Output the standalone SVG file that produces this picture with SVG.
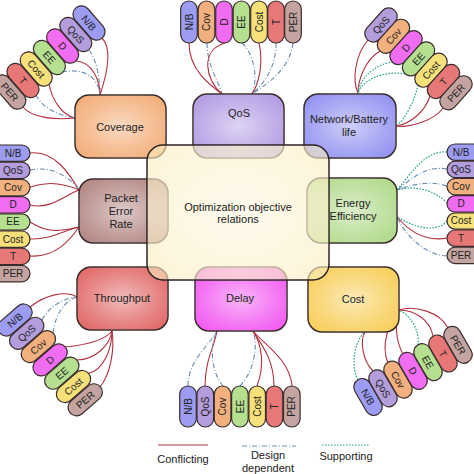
<svg xmlns="http://www.w3.org/2000/svg" width="474" height="474" viewBox="0 0 474 474">
<defs>
<radialGradient id="glow" cx="50%" cy="50%" r="62%">
<stop offset="0" stop-color="#fff" stop-opacity="0.55"/>
<stop offset="0.6" stop-color="#fff" stop-opacity="0.2"/>
<stop offset="1" stop-color="#fff" stop-opacity="0"/>
</radialGradient>
<style>
text{font-family:"Liberation Sans",Arial,sans-serif;fill:#222;text-anchor:middle}
.nt{font-size:11px}
.pt{font-size:10px}
.nb{stroke:#3a2c2c;stroke-width:1.5}
.pb{stroke:#3a2c2c;stroke-width:1.2}
.g{fill:url(#glow)}
.c{fill:none;stroke:#b3303e;stroke-width:1.1}
.d{fill:none;stroke:#6a8db0;stroke-width:1.1;stroke-dasharray:5 2 1 2}
.s{fill:none;stroke:#24a488;stroke-width:1.2;stroke-dasharray:1.6 1.4}
.NB{fill:#9c9cf2}.QOS{fill:#b39ddc}.COV{fill:#f2b07e}.D{fill:#f06cf0}.EE{fill:#b5e08f}.COST{fill:#f6e07a}.T{fill:#e87878}.PER{fill:#c4a4a0}
</style>
</defs>

<g id="connectors">
<!-- QoS -->
<path class="c" d="M189,43 C189,70 210,85 222,94"/>
<path class="d" d="M207,43 C207,65 218,80 222,94"/>
<path class="c" d="M225,43 C200,50 205,80 222,94"/>
<path class="d" d="M242,43 C255,55 258,80 252,94"/>
<path class="c" d="M259,43 C264,65 258,85 252,94"/>
<path class="d" d="M276,43 C276,70 262,85 252,94"/>
<path class="d" d="M293,43 C290,70 265,85 252,94"/>
<!-- Coverage -->
<path class="c" d="M102,38 C114,50 105,80 100,95"/>
<path class="d" d="M89,50 C97,60 100,80 100,95"/>
<path class="c" d="M76,61 C92,62 100,80 100,95"/>
<path class="d" d="M62,72 C82,68 98,75 100,95"/>
<path class="c" d="M49,84 C52,100 62,115 75,118"/>
<path class="d" d="M36,95 C42,108 60,116 75,118"/>
<path class="c" d="M23,107 C32,118 55,120 75,118"/>
<!-- Network -->
<path class="c" d="M368,40 C355,55 352,80 358,93"/>
<path class="c" d="M380,51 C365,60 358,80 358,93"/>
<path class="s" d="M393,62 C375,64 360,78 358,93"/>
<path class="s" d="M405,74 C385,70 362,80 358,93"/>
<path class="s" d="M418,85 C415,100 405,120 396,126"/>
<path class="c" d="M430,96 C425,112 410,124 396,126"/>
<path class="c" d="M443,108 C435,120 410,128 396,126"/>
<!-- Packet Error Rate -->
<path class="c" d="M30,153 C55,150 70,175 79,190"/>
<path class="d" d="M30,170 C55,165 72,180 79,190"/>
<path class="c" d="M30,187 C50,180 68,185 79,190"/>
<path class="c" d="M30,205 C50,210 65,195 79,190"/>
<path class="c" d="M30,222 C50,235 65,230 79,227"/>
<path class="c" d="M30,239 C50,240 65,230 79,227"/>
<path class="c" d="M30,256 C55,258 70,240 79,227"/>
<!-- Energy Efficiency -->
<path class="s" d="M447,152 C425,150 410,175 397,190"/>
<path class="d" d="M447,169 C425,165 410,180 397,190"/>
<path class="d" d="M447,186 C430,180 410,185 397,190"/>
<path class="s" d="M447,203 C435,190 415,185 397,190"/>
<path class="s" d="M447,221 C435,235 410,225 397,217"/>
<path class="c" d="M447,238 C425,242 408,230 397,217"/>
<path class="d" d="M447,256 C425,255 405,235 397,217"/>
<!-- Throughput -->
<path class="c" d="M30,307 C45,295 65,290 77,297"/>
<path class="d" d="M42,320 C50,305 65,298 77,297"/>
<path class="d" d="M53,333 C55,315 65,300 77,297"/>
<path class="c" d="M65,347 C85,345 105,340 112,331"/>
<path class="c" d="M77,360 C95,360 110,345 112,331"/>
<path class="c" d="M89,373 C103,370 112,350 112,331"/>
<path class="c" d="M100,387 C110,375 115,350 112,331"/>
<!-- Delay -->
<path class="d" d="M188,386 C188,360 210,345 217,331"/>
<path class="c" d="M205,386 C205,360 215,345 217,331"/>
<path class="d" d="M223,386 C210,370 210,345 217,331"/>
<path class="d" d="M240,386 C255,370 258,345 253,331"/>
<path class="c" d="M257,386 C265,365 262,345 253,331"/>
<path class="c" d="M274,386 C274,360 262,345 253,331"/>
<path class="c" d="M292,386 C290,360 265,345 253,331"/>
<!-- Cost -->
<path class="s" d="M358,380 C350,365 355,340 365,332"/>
<path class="c" d="M373,371 C362,360 360,340 365,332"/>
<path class="c" d="M388,363 C380,345 390,320 399,310"/>
<path class="c" d="M403,354 C395,340 395,320 399,310"/>
<path class="s" d="M418,345 C420,330 410,315 399,310"/>
<path class="c" d="M433,336 C430,320 415,310 399,310"/>
<path class="c" d="M448,328 C440,312 415,305 399,310"/>
</g>

<!-- Pills: QoS group (top centre) -->
<g id="pills-qos">
<g transform="translate(189,22) rotate(-90)"><rect class="NB pb" x="-21" y="-8.3" width="42" height="16.6" rx="8.3"/><text class="pt" y="3.6">N/B</text></g>
<g transform="translate(206.5,22) rotate(-90)"><rect class="COV pb" x="-21" y="-8.3" width="42" height="16.6" rx="8.3"/><text class="pt" y="3.6">Cov</text></g>
<g transform="translate(224,22) rotate(-90)"><rect class="D pb" x="-21" y="-8.3" width="42" height="16.6" rx="8.3"/><text class="pt" y="3.6">D</text></g>
<g transform="translate(241.5,22) rotate(-90)"><rect class="EE pb" x="-21" y="-8.3" width="42" height="16.6" rx="8.3"/><text class="pt" y="3.6">EE</text></g>
<g transform="translate(259,22) rotate(-90)"><rect class="COST pb" x="-21" y="-8.3" width="42" height="16.6" rx="8.3"/><text class="pt" y="3.6">Cost</text></g>
<g transform="translate(276,22) rotate(-90)"><rect class="T pb" x="-21" y="-8.3" width="42" height="16.6" rx="8.3"/><text class="pt" y="3.6">T</text></g>
<g transform="translate(293,22) rotate(-90)"><rect class="PER pb" x="-21" y="-8.3" width="42" height="16.6" rx="8.3"/><text class="pt" y="3.6">PER</text></g>
</g>

<!-- Pills: Coverage group (top left) -->
<g id="pills-coverage">
<g transform="translate(89,23) rotate(49)"><rect class="NB pb" x="-20" y="-8.5" width="40" height="17" rx="8.5"/><text class="pt" y="3.6">N/B</text></g>
<g transform="translate(75.8,34.5) rotate(49)"><rect class="QOS pb" x="-20" y="-8.5" width="40" height="17" rx="8.5"/><text class="pt" y="3.6">QoS</text></g>
<g transform="translate(62.6,46) rotate(49)"><rect class="D pb" x="-20" y="-8.5" width="40" height="17" rx="8.5"/><text class="pt" y="3.6">D</text></g>
<g transform="translate(49.4,57.5) rotate(49)"><rect class="EE pb" x="-20" y="-8.5" width="40" height="17" rx="8.5"/><text class="pt" y="3.6">EE</text></g>
<g transform="translate(36.2,69) rotate(49)"><rect class="COST pb" x="-20" y="-8.5" width="40" height="17" rx="8.5"/><text class="pt" y="3.6">Cost</text></g>
<g transform="translate(23,80.5) rotate(49)"><rect class="T pb" x="-20" y="-8.5" width="40" height="17" rx="8.5"/><text class="pt" y="3.6">T</text></g>
<g transform="translate(9.8,92) rotate(49)"><rect class="PER pb" x="-20" y="-8.5" width="40" height="17" rx="8.5"/><text class="pt" y="3.6">PER</text></g>
</g>

<!-- Pills: Network group (top right) -->
<g id="pills-network">
<g transform="translate(381,25) rotate(-48)"><rect class="QOS pb" x="-20" y="-8.5" width="40" height="17" rx="8.5"/><text class="pt" y="3.6">QoS</text></g>
<g transform="translate(393.5,36.3) rotate(-48)"><rect class="COV pb" x="-20" y="-8.5" width="40" height="17" rx="8.5"/><text class="pt" y="3.6">Cov</text></g>
<g transform="translate(406,47.6) rotate(-48)"><rect class="D pb" x="-20" y="-8.5" width="40" height="17" rx="8.5"/><text class="pt" y="3.6">D</text></g>
<g transform="translate(418.5,58.9) rotate(-48)"><rect class="EE pb" x="-20" y="-8.5" width="40" height="17" rx="8.5"/><text class="pt" y="3.6">EE</text></g>
<g transform="translate(431,70.2) rotate(-48)"><rect class="COST pb" x="-20" y="-8.5" width="40" height="17" rx="8.5"/><text class="pt" y="3.6">Cost</text></g>
<g transform="translate(443.5,81.5) rotate(-48)"><rect class="T pb" x="-20" y="-8.5" width="40" height="17" rx="8.5"/><text class="pt" y="3.6">T</text></g>
<g transform="translate(456,92.8) rotate(-48)"><rect class="PER pb" x="-20" y="-8.5" width="40" height="17" rx="8.5"/><text class="pt" y="3.6">PER</text></g>
</g>

<!-- Pills: Packet Error Rate group (left) -->
<g id="pills-per">
<rect class="NB pb" x="-10" y="145" width="40" height="16.4" rx="8.2"/><text class="pt" x="13" y="156.6">N/B</text>
<rect class="QOS pb" x="-10" y="162.2" width="40" height="16.4" rx="8.2"/><text class="pt" x="13" y="173.8">QoS</text>
<rect class="COV pb" x="-10" y="179.4" width="40" height="16.4" rx="8.2"/><text class="pt" x="13" y="191">Cov</text>
<rect class="D pb" x="-10" y="196.6" width="40" height="16.4" rx="8.2"/><text class="pt" x="13" y="208.2">D</text>
<rect class="EE pb" x="-10" y="213.8" width="40" height="16.4" rx="8.2"/><text class="pt" x="13" y="225.4">EE</text>
<rect class="COST pb" x="-10" y="231" width="40" height="16.4" rx="8.2"/><text class="pt" x="13" y="242.6">Cost</text>
<rect class="T pb" x="-10" y="248.2" width="40" height="16.4" rx="8.2"/><text class="pt" x="13" y="259.8">T</text>
<rect class="PER pb" x="-10" y="265.4" width="40" height="16.4" rx="8.2"/><text class="pt" x="13" y="277">PER</text>
</g>

<!-- Pills: Energy Efficiency group (right) -->
<g id="pills-ee">
<rect class="NB pb" x="447" y="144" width="40" height="16.4" rx="8.2"/><text class="pt" x="461" y="155.6">N/B</text>
<rect class="QOS pb" x="447" y="161.2" width="40" height="16.4" rx="8.2"/><text class="pt" x="461" y="172.8">QoS</text>
<rect class="COV pb" x="447" y="178.4" width="40" height="16.4" rx="8.2"/><text class="pt" x="461" y="190">Cov</text>
<rect class="D pb" x="447" y="195.6" width="40" height="16.4" rx="8.2"/><text class="pt" x="461" y="207.2">D</text>
<rect class="COST pb" x="447" y="212.8" width="40" height="16.4" rx="8.2"/><text class="pt" x="461" y="224.4">Cost</text>
<rect class="T pb" x="447" y="230" width="40" height="16.4" rx="8.2"/><text class="pt" x="461" y="241.6">T</text>
<rect class="PER pb" x="447" y="247.2" width="40" height="16.4" rx="8.2"/><text class="pt" x="461" y="258.8">PER</text>
</g>

<!-- Pills: Throughput group (bottom left) -->
<g id="pills-throughput">
<g transform="translate(15,320) rotate(-41)"><rect class="NB pb" x="-20" y="-8.5" width="40" height="17" rx="8.5"/><text class="pt" y="3.6">N/B</text></g>
<g transform="translate(26.7,333.3) rotate(-41)"><rect class="QOS pb" x="-20" y="-8.5" width="40" height="17" rx="8.5"/><text class="pt" y="3.6">QoS</text></g>
<g transform="translate(38.4,346.6) rotate(-41)"><rect class="COV pb" x="-20" y="-8.5" width="40" height="17" rx="8.5"/><text class="pt" y="3.6">Cov</text></g>
<g transform="translate(50.1,359.9) rotate(-41)"><rect class="D pb" x="-20" y="-8.5" width="40" height="17" rx="8.5"/><text class="pt" y="3.6">D</text></g>
<g transform="translate(61.8,373.2) rotate(-41)"><rect class="EE pb" x="-20" y="-8.5" width="40" height="17" rx="8.5"/><text class="pt" y="3.6">EE</text></g>
<g transform="translate(73.5,386.5) rotate(-41)"><rect class="COST pb" x="-20" y="-8.5" width="40" height="17" rx="8.5"/><text class="pt" y="3.6">Cost</text></g>
<g transform="translate(85.2,399.8) rotate(-41)"><rect class="PER pb" x="-20" y="-8.5" width="40" height="17" rx="8.5"/><text class="pt" y="3.6">PER</text></g>
</g>

<!-- Pills: Delay group (bottom centre) -->
<g id="pills-delay">
<g transform="translate(188,406.5) rotate(-90)"><rect class="NB pb" x="-20.5" y="-8.3" width="41" height="16.6" rx="8.3"/><text class="pt" y="3.6">N/B</text></g>
<g transform="translate(205.3,406.5) rotate(-90)"><rect class="QOS pb" x="-20.5" y="-8.3" width="41" height="16.6" rx="8.3"/><text class="pt" y="3.6">QoS</text></g>
<g transform="translate(222.6,406.5) rotate(-90)"><rect class="COV pb" x="-20.5" y="-8.3" width="41" height="16.6" rx="8.3"/><text class="pt" y="3.6">Cov</text></g>
<g transform="translate(239.9,406.5) rotate(-90)"><rect class="EE pb" x="-20.5" y="-8.3" width="41" height="16.6" rx="8.3"/><text class="pt" y="3.6">EE</text></g>
<g transform="translate(257.2,406.5) rotate(-90)"><rect class="COST pb" x="-20.5" y="-8.3" width="41" height="16.6" rx="8.3"/><text class="pt" y="3.6">Cost</text></g>
<g transform="translate(274.5,406.5) rotate(-90)"><rect class="T pb" x="-20.5" y="-8.3" width="41" height="16.6" rx="8.3"/><text class="pt" y="3.6">T</text></g>
<g transform="translate(291.8,406.5) rotate(-90)"><rect class="PER pb" x="-20.5" y="-8.3" width="41" height="16.6" rx="8.3"/><text class="pt" y="3.6">PER</text></g>
</g>

<!-- Pills: Cost group (bottom right) -->
<g id="pills-cost">
<g transform="translate(368,397) rotate(60)"><rect class="NB pb" x="-20" y="-8.5" width="40" height="17" rx="8.5"/><text class="pt" y="3.6">N/B</text></g>
<g transform="translate(383,388.3) rotate(60)"><rect class="QOS pb" x="-20" y="-8.5" width="40" height="17" rx="8.5"/><text class="pt" y="3.6">QoS</text></g>
<g transform="translate(398,379.6) rotate(60)"><rect class="COV pb" x="-20" y="-8.5" width="40" height="17" rx="8.5"/><text class="pt" y="3.6">Cov</text></g>
<g transform="translate(413,370.9) rotate(60)"><rect class="D pb" x="-20" y="-8.5" width="40" height="17" rx="8.5"/><text class="pt" y="3.6">D</text></g>
<g transform="translate(428,362.2) rotate(60)"><rect class="EE pb" x="-20" y="-8.5" width="40" height="17" rx="8.5"/><text class="pt" y="3.6">EE</text></g>
<g transform="translate(443,353.5) rotate(60)"><rect class="T pb" x="-20" y="-8.5" width="40" height="17" rx="8.5"/><text class="pt" y="3.6">T</text></g>
<g transform="translate(458,344.8) rotate(60)"><rect class="PER pb" x="-20" y="-8.5" width="40" height="17" rx="8.5"/><text class="pt" y="3.6">PER</text></g>
</g>

<!-- Nodes -->
<g id="coverage"><rect class="nb" x="75" y="95" width="91" height="63" rx="14" fill="#f3ae7a"/><rect class="g" x="75" y="95" width="91" height="63" rx="14"/><text class="nt" x="120" y="131">Coverage</text></g>
<g id="qos"><rect class="nb" x="193" y="94" width="91" height="64" rx="14" fill="#b49de4"/><rect class="g" x="193" y="94" width="91" height="64" rx="14"/><text class="nt" x="239" y="117">QoS</text></g>
<g id="network"><rect class="nb" x="304" y="94" width="92" height="64" rx="14" fill="#9494f2"/><rect class="g" x="304" y="94" width="92" height="64" rx="14"/><text class="nt" x="349" y="123">Network/Battery</text><text class="nt" x="349" y="136">life</text></g>
<g id="packet-error-rate"><rect class="nb" x="79" y="179" width="89" height="64" rx="14" fill="#b48884"/><rect class="g" x="79" y="179" width="89" height="64" rx="14"/><text class="nt" x="121" y="202">Packet</text><text class="nt" x="121" y="215">Error</text><text class="nt" x="121" y="228">Rate</text></g>
<g id="energy-efficiency"><rect class="nb" x="307" y="178" width="90" height="65" rx="14" fill="#b2da8c"/><rect class="g" x="307" y="178" width="90" height="65" rx="14"/><text class="nt" x="353" y="207">Energy</text><text class="nt" x="353" y="220">Efficiency</text></g>
<g id="throughput"><rect class="nb" x="77" y="267" width="91" height="63" rx="14" fill="#e26a6a"/><rect class="g" x="77" y="267" width="91" height="63" rx="14"/><text class="nt" x="122" y="302">Throughput</text></g>
<g id="delay"><rect class="nb" x="195" y="267" width="92" height="64" rx="14" fill="#f25cf2"/><rect class="g" x="195" y="267" width="92" height="64" rx="14"/><text class="nt" x="240" y="302">Delay</text></g>
<g id="cost"><rect class="nb" x="308" y="267" width="91" height="65" rx="14" fill="#f8cf5c"/><rect class="g" x="308" y="267" width="91" height="65" rx="14"/><text class="nt" x="353" y="303">Cost</text></g>

<g id="center"><rect x="147" y="145" width="182" height="135" rx="16" fill="#fcefc4" fill-opacity="0.62" stroke="#2a2222" stroke-width="1.5"/><rect class="g" x="147" y="145" width="182" height="135" rx="16"/><text class="nt" x="238" y="211">Optimization objective</text><text class="nt" x="238" y="223">relations</text></g>

<!-- Legend -->
<g id="legend">
<line class="c" x1="158" y1="445" x2="208" y2="445"/>
<text class="nt" x="183" y="463">Conflicting</text>
<line class="d" x1="242" y1="446" x2="296" y2="446"/>
<text class="nt" x="268" y="459">Design</text>
<text class="nt" x="268" y="472">dependent</text>
<line class="s" x1="322" y1="445" x2="370" y2="445"/>
<text class="nt" x="346" y="460">Supporting</text>
</g>
</svg>
